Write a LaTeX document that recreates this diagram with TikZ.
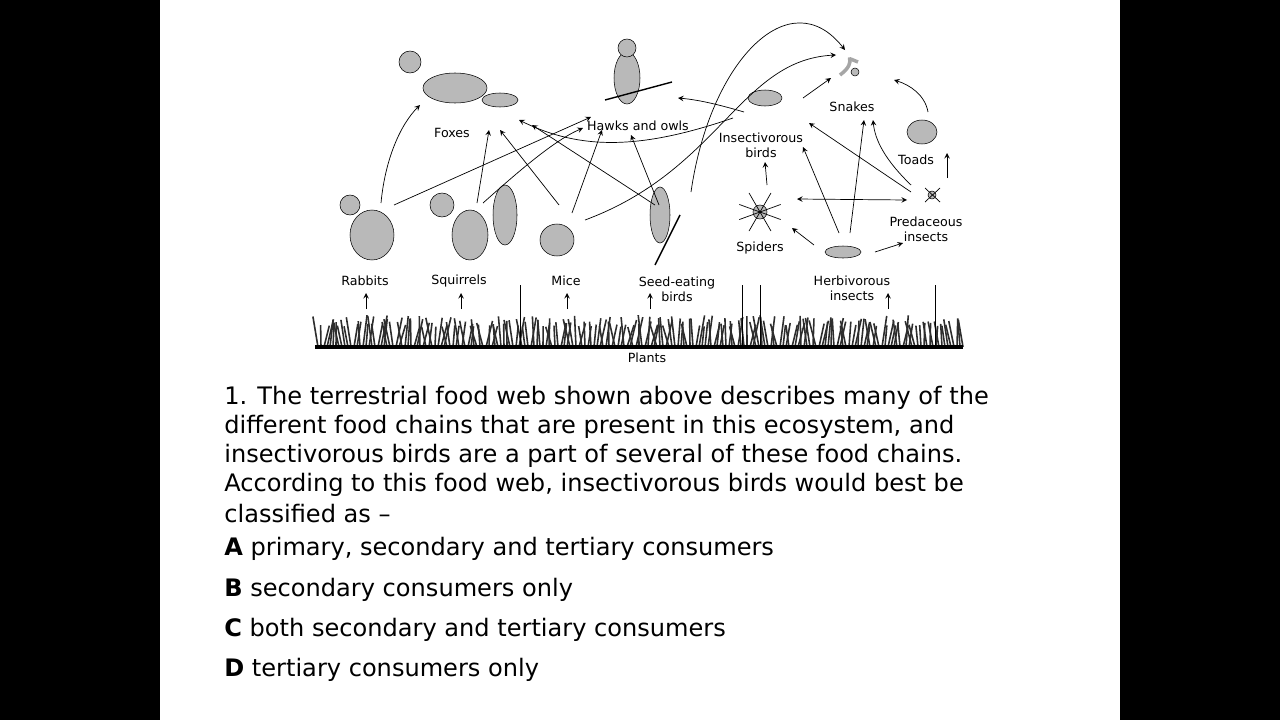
\documentclass[tikz,border=0pt]{standalone}
\usepackage{fontspec}
\setmainfont{DejaVu Sans}
\usetikzlibrary{positioning,calc}

\tikzset{
  lbl/.style={font=\fontsize{7.2}{8.6}\selectfont, align=center, inner sep=1pt},
  eat/.style={-stealth, thin},
  beast/.style={fill=gray!55, draw=black, line width=0.3pt},
  qline/.style={anchor=west, font=\fontsize{13.7}{16}\selectfont, inner sep=0pt}
}

\begin{document}
\begin{tikzpicture}[x=0.02cm, y=-0.02cm]
  \useasboundingbox (0,0) rectangle (1280,720);
  \fill[black] (0,0) rectangle (160,720);
  \fill[black] (1120,0) rectangle (1280,720);

  % animals, roughly
  \fill[beast] (455,88) ellipse (32 and 15);
  \fill[beast] (410,62) circle (11);
  \fill[beast] (500,100) ellipse (18 and 7);
  \fill[beast] (627,78) ellipse (13 and 26);
  \fill[beast] (627,48) circle (9);
  \draw[thick] (605,100) -- (672,82);
  \fill[beast] (765,98) ellipse (17 and 8);
  \fill[beast] (855,72) circle (4);
  \draw[line width=2pt, gray!70] (840,75) .. controls (860,60) and (840,55) .. (858,62);
  \fill[beast] (922,132) ellipse (15 and 12);
  \fill[beast] (932,195) circle (4);
  \draw (925,188) -- (940,202) (925,202) -- (940,188);
  \fill[beast] (760,212) circle (7);
  \foreach \a in {20,60,120,160,200,240,300,340}
    \draw (760,212) -- +(\a:22);
  \fill[beast] (843,252) ellipse (18 and 6);
  \fill[beast] (372,235) ellipse (22 and 25);
  \fill[beast] (350,205) circle (10);
  \fill[beast] (470,235) ellipse (18 and 25);
  \fill[beast] (505,215) ellipse (12 and 30);
  \fill[beast] (442,205) circle (12);
  \fill[beast] (557,240) ellipse (17 and 16);
  \fill[beast] (660,215) ellipse (10 and 28);
  \draw[thick] (655,265) -- (680,215);

  % labels
  \node[lbl] (fox) at (452,133) {Foxes};
  \node[lbl] (hawk) at (638,126) {Hawks and owls};
  \node[lbl] (ibird) at (761,145) {Insectivorous\\birds};
  \node[lbl] (snake) at (852,107) {Snakes};
  \node[lbl] (toad) at (916,160) {Toads};
  \node[lbl] (pred) at (926,229) {Predaceous\\insects};
  \node[lbl] (spid) at (760,248) {Spiders};
  \node[lbl] (herb) at (852,288) {Herbivorous\\insects};
  \node[lbl] (rab) at (365,281) {Rabbits};
  \node[lbl] (squ) at (459,281) {Squirrels};
  \node[lbl] (mice) at (566,281) {Mice};
  \node[lbl] (seed) at (677,289) {Seed-eating\\birds};
  \node[lbl] (plant) at (647,358) {Plants};

  % grass
  \pgfmathsetseed{7}
  \foreach \i in {0,...,215} {
    \pgfmathsetmacro{\gx}{318+\i*3}
    \pgfmathsetmacro{\gh}{20+12*rnd}
    \pgfmathsetmacro{\gd}{14*rnd-7}
    \draw[line width=0.9pt, gray!35!black] (\gx,347) -- ++(\gd,-\gh);
  }
  \foreach \gx in {520,742,760,935}
    \draw[line width=0.4pt] (\gx,347) -- (\gx,285);
  \draw[line width=2pt] (315,347) -- (963,347);

  % plants up
  \foreach \px in {366,461,567,650,888}
    \draw[eat] (\px,309) -- (\px,293);

  % coordinates for the animals
  \coordinate (rabA) at (381,203);  \coordinate (rabB) at (394,205);
  \coordinate (squA) at (477,203);  \coordinate (squB) at (483,203);
  \coordinate (miA) at (559,205);   \coordinate (miB) at (572,213);
  \coordinate (miC) at (585,220);
  \coordinate (seA) at (655,205);   \coordinate (seB) at (659,205);
  \coordinate (seC) at (691,192);
  \coordinate (ibA) at (733,118);   \coordinate (ibB) at (744,112);
  \coordinate (ibC) at (803,98);
  \coordinate (spA) at (767,185);   \coordinate (spB) at (797,199);
  \coordinate (heA) at (814,245);   \coordinate (heB) at (875,252);
  \coordinate (heC) at (839,233);   \coordinate (heD) at (850,233);
  \coordinate (prA) at (911,192);   \coordinate (prB) at (911,185);
  \coordinate (prC) at (947,178);   \coordinate (prD) at (907,200);
  \coordinate (toA) at (928,112);

  % feeding arrows
  \draw[eat] (rabA) .. controls (385,160) and (400,125) .. (420,105);
  \draw[eat] (rabB) -- (591,117);
  \draw[eat] (squA) -- (489,130);
  \draw[eat] (squB) .. controls (520,170) and (555,140) .. (583,128);
  \draw[eat] (miA) -- (500,130);
  \draw[eat] (miB) -- (602,130);
  \draw[eat] (miC) .. controls (720,170) and (740,60) .. (836,55);
  \draw[eat] (seC) .. controls (710,60) and (790,-20) .. (845,50);
  \draw[eat] (seA) -- (532,125);
  \draw[eat] (seB) -- (631,135);
  \draw[eat] (ibA) .. controls (640,150) and (580,150) .. (519,120);
  \draw[eat] (ibB) .. controls (720,105) and (700,100) .. (678,98);
  \draw[eat] (ibC) -- (831,78);
  \draw[eat] (spA) -- (765,162);
  \draw[stealth-stealth, thin] (spB) -- (prD);
  \draw[eat] (heA) -- (792,228);
  \draw[eat] (heB) -- (903,243);
  \draw[eat] (heC) -- (803,147);
  \draw[eat] (heD) -- (864,120);
  \draw[eat] (prA) -- (809,123);
  \draw[eat] (prB) .. controls (885,160) and (875,140) .. (873,120);
  \draw[eat] (prC) -- (947,153);
  \draw[eat] (toA) .. controls (925,95) and (910,85) .. (894,80);

  % question
  \node[qline] (q1) at (224,398) {1. The terrestrial food web shown above describes many of the};
  \node[qline] (q2) at (224,427) {different food chains that are present in this ecosystem, and};
  \node[qline] (q3) at (224,456) {insectivorous birds are a part of several of these food chains.};
  \node[qline] (q4) at (224,485) {According to this food web, insectivorous birds would best be};
  \node[qline] (q5) at (224,514) {classified as –};
  \node[qline] (oa) at (224,549) {\textbf{A} primary, secondary and tertiary consumers};
  \node[qline] (ob) at (224,590) {\textbf{B} secondary consumers only};
  \node[qline] (oc) at (224,630) {\textbf{C} both secondary and tertiary consumers};
  \node[qline] (od) at (224,670) {\textbf{D} tertiary consumers only};
\end{tikzpicture}
\end{document}
